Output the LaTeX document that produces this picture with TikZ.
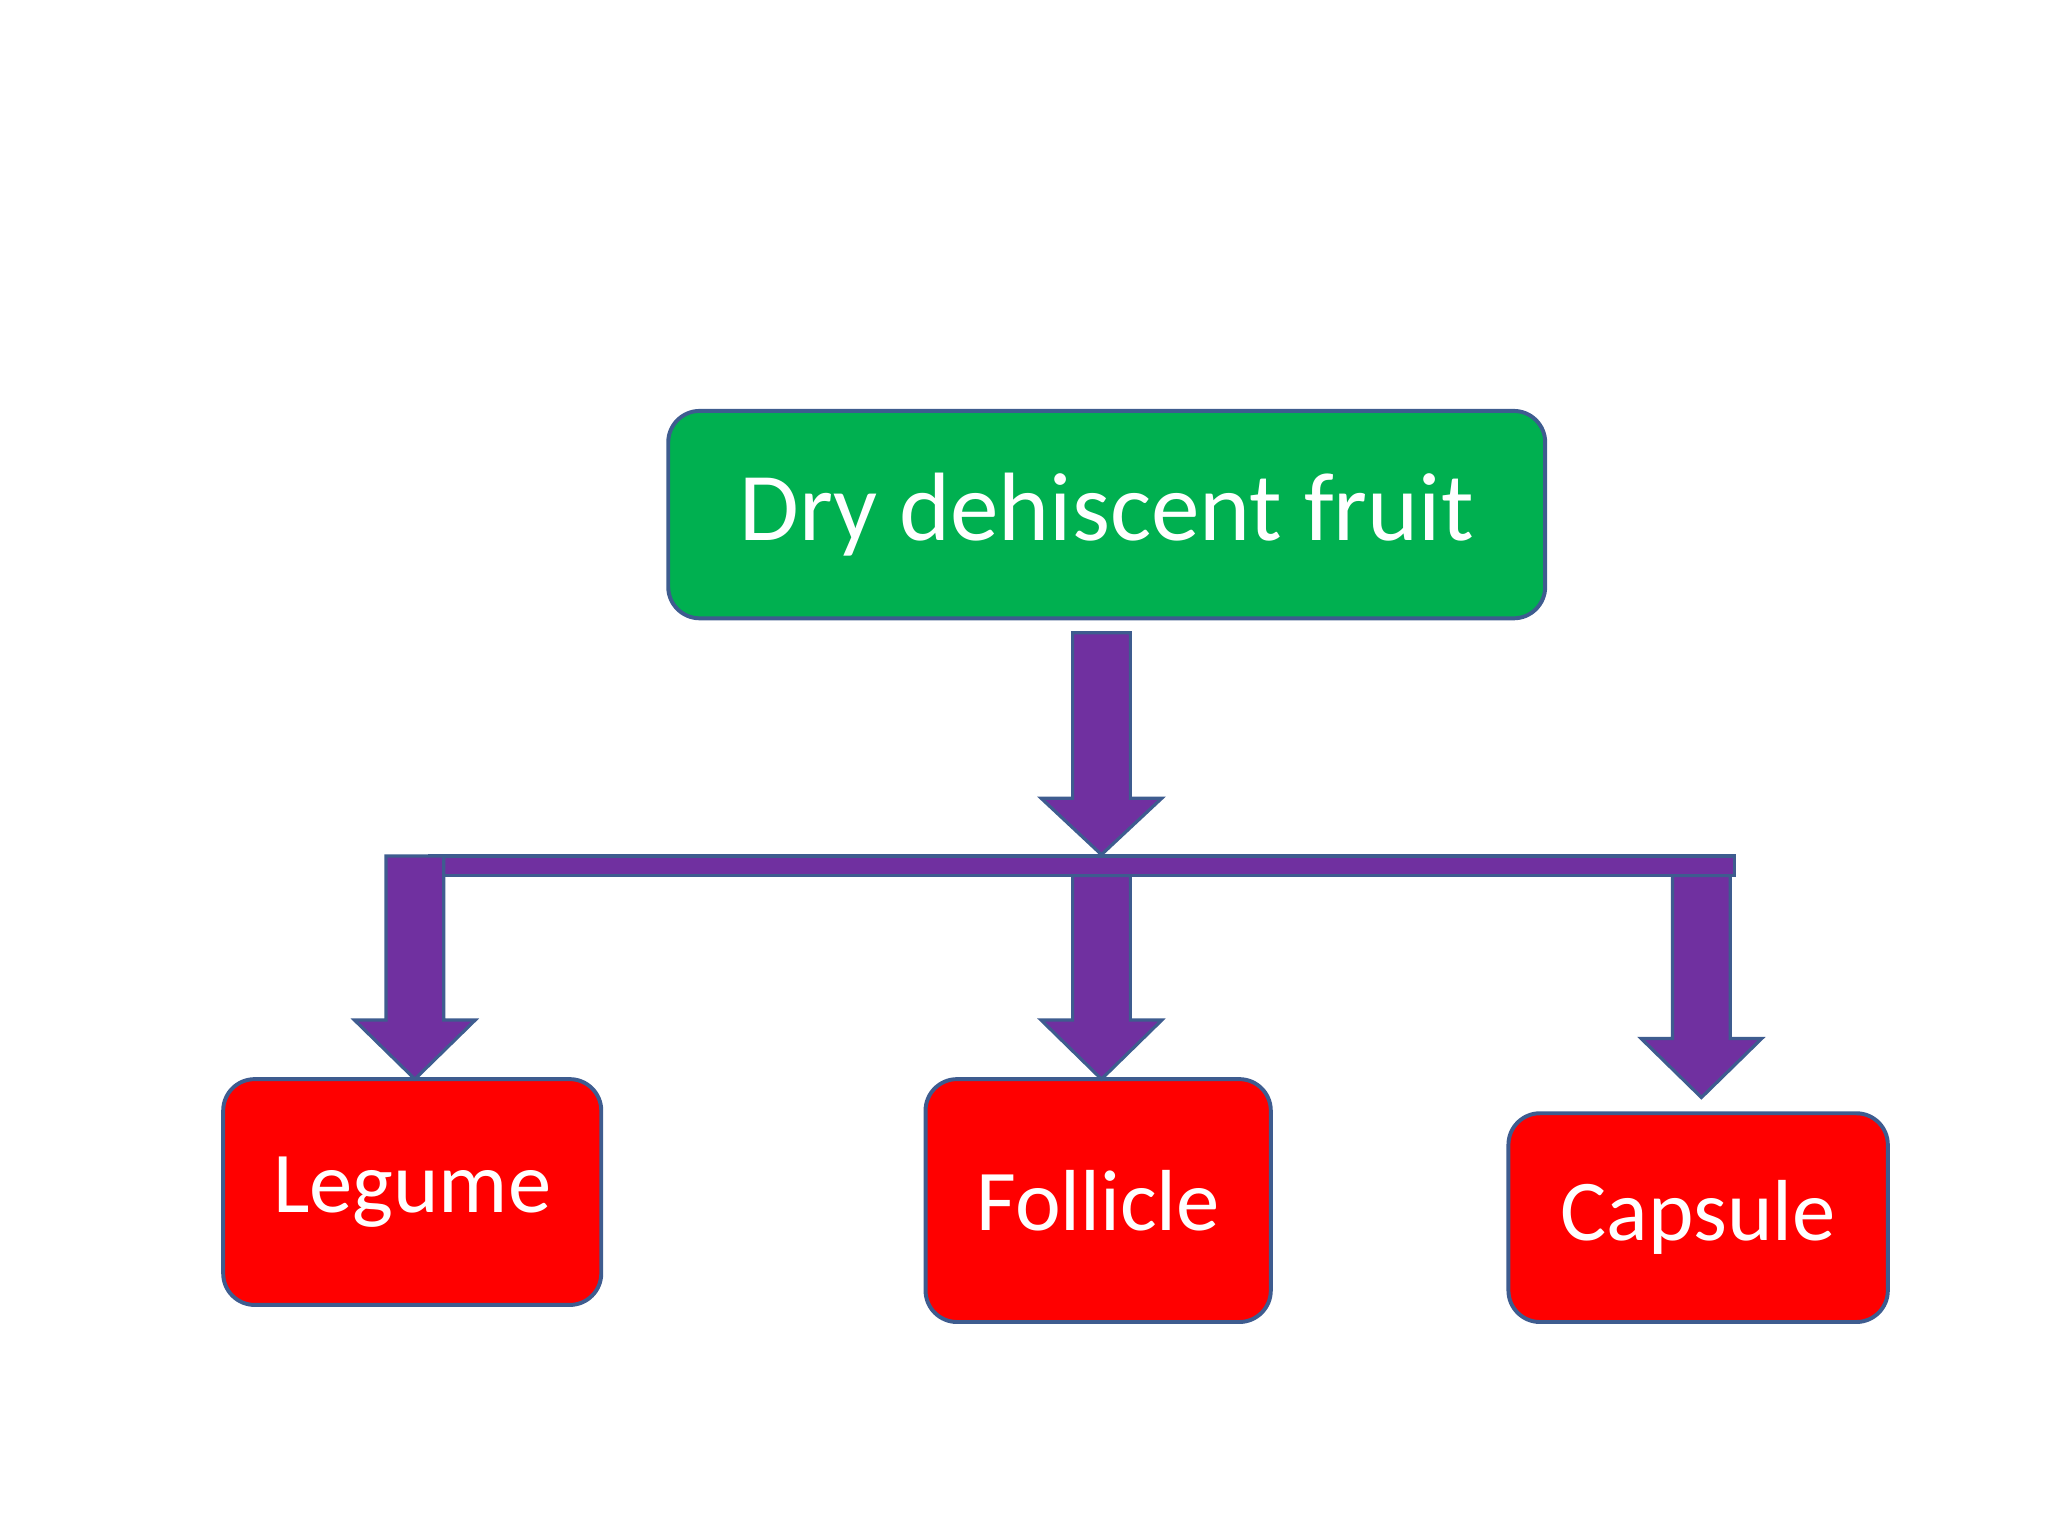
\documentclass[tikz,border=0pt]{standalone}
\usepackage{fontspec}
\setmainfont{Carlito}
\definecolor{grn}{HTML}{00B050}
\definecolor{edge}{HTML}{3E5C8F}
\definecolor{purp}{HTML}{7030A0}
\begin{document}
\begin{tikzpicture}[x=0.5pt,y=-0.5pt,
 box/.style={draw=edge,line width=1.5pt,rounded corners=12pt,text=white,inner sep=0pt},
 arr/.style={draw=edge,fill=purp,line width=1.2pt,line join=miter}]
\useasboundingbox (0,0) rectangle (1560,1170);
\node[box,fill=grn,minimum width=334pt,minimum height=79pt,font=\fontsize{37}{40}\selectfont] (top) at (843,392) {Dry dehiscent fruit};
\node[box,fill=red,minimum width=144pt,minimum height=86pt,font=\fontsize{33}{36}\selectfont] (leg) at (314,908) {Legume};
\node[box,fill=red,minimum width=131.5pt,minimum height=92.5pt,font=\fontsize{33}{36}\selectfont] (fol) at (836.5,914.5) {Follicle};
\node[box,fill=red,minimum width=144.5pt,minimum height=79.5pt,font=\fontsize{33}{36}\selectfont] (cap) at (1293.5,927.5) {Capsule};
% top arrow
\draw[arr] (817,482) -- (861,482) -- (861,608) -- (885,608) -- (839,651) -- (793,608) -- (817,608) -- cycle;
% bar
\draw[arr] (327,652) -- (1321,652) -- (1321,667) -- (327,667) -- cycle;
% left arrow
\draw[arr] (294,652) -- (338,652) -- (338,777) -- (362,777) -- (316,822) -- (270,777) -- (294,777) -- cycle;
% middle arrow
\draw[arr] (817,667) -- (861,667) -- (861,777) -- (885,777) -- (839,822) -- (793,777) -- (817,777) -- cycle;
% right arrow
\draw[arr] (1274,667) -- (1318,667) -- (1318,791) -- (1342,791) -- (1296,836) -- (1250,791) -- (1274,791) -- cycle;
\end{tikzpicture}
\end{document}
